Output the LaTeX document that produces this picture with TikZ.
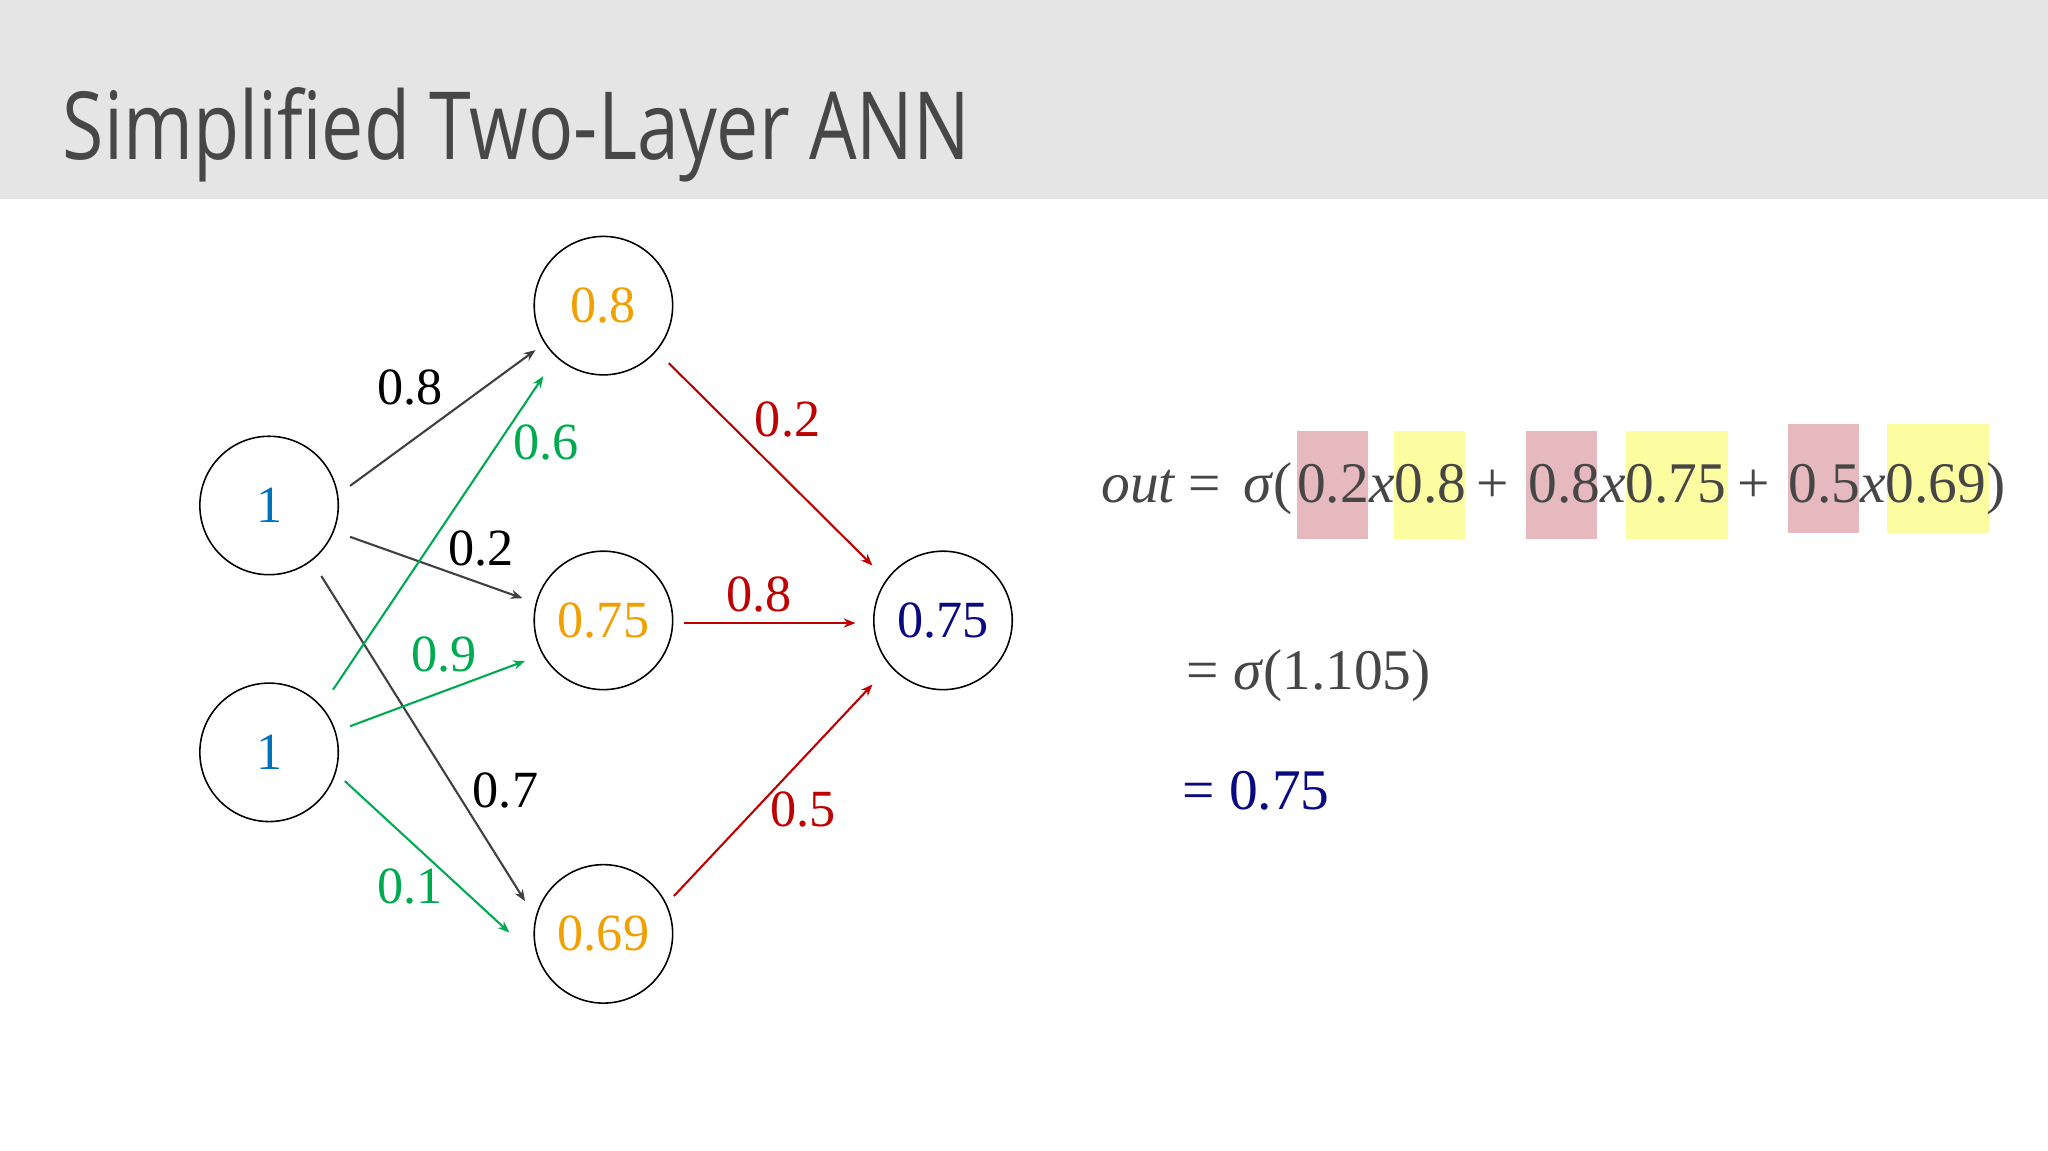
\documentclass[tikz,border=0pt]{standalone}
\usepackage{fontspec}
\setmainfont{Liberation Serif}
\newfontfamily\titlefont{Open Sans}
\usetikzlibrary{arrows.meta}
\definecolor{inblue}{RGB}{0,114,188}
\definecolor{hidor}{RGB}{240,160,0}
\definecolor{navy}{RGB}{10,10,128}
\definecolor{egreen}{RGB}{0,170,80}
\definecolor{ered}{RGB}{190,0,0}
\definecolor{egray}{RGB}{64,64,64}
\definecolor{hpink}{RGB}{230,185,190}
\definecolor{hyel}{RGB}{252,252,160}
\definecolor{ftxt}{RGB}{70,70,70}
\tikzset{
  neuron/.style={circle,draw,line width=1.2pt,minimum size=106pt,inner sep=0pt,font=\fontsize{40}{40}\selectfont},
  edge/.style={-{Stealth[length=9pt,width=7pt]},line width=1.6pt},
  wl/.style={font=\fontsize{40}{40}\selectfont,inner sep=0pt},
  fx/.style={font=\fontsize{44}{44}\selectfont,text=ftxt,inner sep=0pt,anchor=base west},
}
\begin{document}
\begin{tikzpicture}[x=1pt,y=-1pt]
\useasboundingbox (0,0) rectangle (1568,881);
\fill[white] (0,0) rectangle (1568,881);
\fill[black!10] (0,0) rectangle (1568,152);
\node[anchor=base west,inner sep=0pt,text=black!72,font=\titlefont\fontsize{72}{72}\selectfont] (title) at (48,122) {\scalebox{0.8}[1]{Simplified Two-Layer ANN}};
% neurons
\node[neuron,text=inblue] (i1) at (206,387) {1};
\node[neuron,text=inblue] (i2) at (206,576) {1};
\node[neuron,text=hidor] (h1) at (462,234) {0.8};
\node[neuron,text=hidor] (h2) at (462,475) {0.75};
\node[neuron,text=hidor] (h3) at (462,715) {0.69};
\node[neuron,text=navy] (o) at (722,475) {0.75};
% edges
\coordinate (a1) at (268,372); \coordinate (b1) at (410,268);
\coordinate (a2) at (268,411); \coordinate (b2) at (400,458);
\coordinate (a3) at (246,441); \coordinate (b3) at (402,690);
\draw[edge,egray] (a1) -- (b1);
\draw[edge,egray] (a2) -- (b2);
\draw[edge,egray] (a3) -- (b3);
\coordinate (c1) at (255,528); \coordinate (d1) at (416,288);
\coordinate (c2) at (268,556); \coordinate (d2) at (402,506);
\coordinate (c3) at (264,598); \coordinate (d3) at (390,714);
\draw[edge,egreen] (c1) -- (d1);
\draw[edge,egreen] (c2) -- (d2);
\draw[edge,egreen] (c3) -- (d3);
\coordinate (e1) at (512,278); \coordinate (f1) at (668,433);
\coordinate (e2) at (524,477); \coordinate (f2) at (655,477);
\coordinate (e3) at (516,686); \coordinate (f3) at (668,524);
\draw[edge,ered] (e1) -- (f1);
\draw[edge,ered] (e2) -- (f2);
\draw[edge,ered] (e3) -- (f3);
% weights
\node[wl] (w1) at (314,297) {0.8};
\node[wl,text=egreen] (w2) at (418,339) {0.6};
\node[wl] (w3) at (368,420) {0.2};
\node[wl,text=egreen] (w4) at (340,501) {0.9};
\node[wl] (w5) at (387,605) {0.7};
\node[wl,text=egreen] (w6) at (314,679) {0.1};
\node[wl,text=ered] (w7) at (603,321) {0.2};
\node[wl,text=ered] (w8) at (581,455) {0.8};
\node[wl,text=ered] (w9) at (615,620) {0.5};
% highlight boxes
\fill[hpink] (993,330) rectangle (1047,413);
\fill[hyel] (1067,330) rectangle (1122,413);
\fill[hpink] (1168,330) rectangle (1223,413);
\fill[hyel] (1245,330) rectangle (1323,413);
\fill[hpink] (1369,325) rectangle (1423,408);
\fill[hyel] (1445,325) rectangle (1523,408);
% formula pieces
\node[fx] (p1) at (843,385) {\textit{out}};
\node[fx] (p2) at (910,385) {=};
\node[fx] (p3) at (952,385) {\textit{σ}(};
\node[fx] (p4) at (993,385) {0.2\textit{x}0.8};
\node[fx] (p5) at (1130,385) {+};
\node[fx] (p6) at (1170,385) {0.8\textit{x}0.75};
\node[fx] (p7) at (1330,385) {+};
\node[fx] (p8) at (1369,385) {0.5\textit{x}0.69)};
\node[fx] (q1) at (908,528) {= \textit{σ}(1.105)};
\node[fx,text=navy] (q2) at (905,620) {= 0.75};
\end{tikzpicture}
\end{document}
